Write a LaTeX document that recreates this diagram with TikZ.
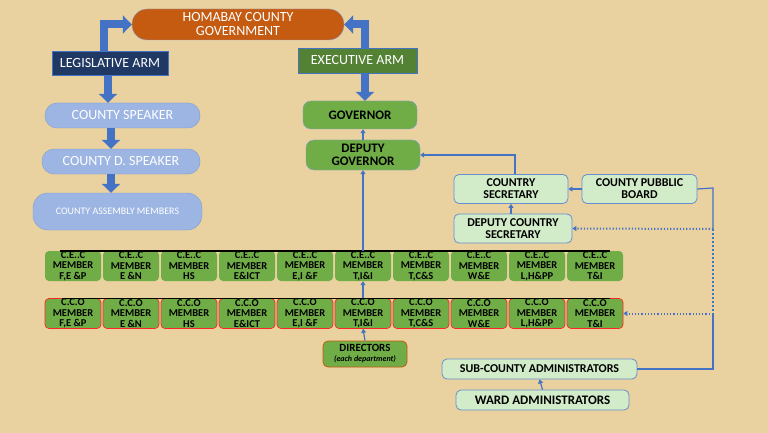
\documentclass[tikz,border=0pt]{standalone}
\usepackage{fontspec}
\setmainfont{Carlito}
\usetikzlibrary{arrows.meta}
\definecolor{bg}{HTML}{E9D29F}
\definecolor{org}{HTML}{C55A11}
\definecolor{navy}{HTML}{1F3864}
\definecolor{dgreen}{HTML}{548235}
\definecolor{mgreen}{HTML}{70AD47}
\definecolor{lblue}{HTML}{9DB5E3}
\definecolor{lgreen}{HTML}{D2EBC8}
\definecolor{arr}{HTML}{4472C4}
\newcommand\fs[1]{\fontsize{#1}{#1}\selectfont}
\tikzset{
 box/.style={rounded corners=5pt,minimum height=#1,inner sep=1pt,align=center},
 spk/.style={box=25pt,rounded corners=12pt,fill=lblue,draw=arr!70,text=white,font=\fs{14}},
 gov/.style={box=28pt,rounded corners=8pt,fill=mgreen,draw=arr!70,font=\fs{13}\bfseries},
 sec/.style={box=29pt,fill=lgreen,draw=arr!80,font=\fs{12}\bfseries,line width=0.8pt},
 mem/.style={rounded corners=4pt,fill=mgreen,minimum width=56pt,minimum height=30pt,inner sep=0pt,align=center,font=\fs{10.5}\bfseries},
 cco/.style={mem,draw=red!85,line width=0.7pt},
 thick arr/.style={line width=8pt,draw=arr,-{Triangle[length=9pt,width=18pt]}},
 thin arr/.style={line width=1.2pt,draw=arr,-{Triangle[length=4pt,width=5pt]}},
 dot arr/.style={thin arr,dotted,line width=2pt},
}
\begin{document}
\begin{tikzpicture}[x=1pt,y=-1pt]
\fill[bg] (0,0) rectangle (768,433);
\useasboundingbox (0,0) rectangle (768,433);
\node[rounded corners=15pt,fill=org,draw=arr!60,minimum width=212pt,minimum height=31pt,text=white,font=\fs{14},align=center,inner sep=1pt] (hc) at (238,24.5) {HOMABAY COUNTY\\GOVERNMENT};
\node[fill=navy,draw=arr,minimum width=116pt,minimum height=24pt,text=white,font=\fs{14}] (leg) at (110,63) {LEGISLATIVE ARM};
\node[fill=dgreen,draw=arr,minimum width=119pt,minimum height=25pt,text=white,font=\fs{14}] (exe) at (357.5,60.5) {EXECUTIVE ARM};
\node[spk,minimum width=155pt] (sp) at (122.5,115.5) {COUNTY SPEAKER};
\node[spk,minimum width=158pt] (dsp) at (121,161.5) {COUNTY D. SPEAKER};
\node[spk,minimum width=169pt,minimum height=37pt,rounded corners=15pt,font=\fs{10}] (cam) at (117.5,211.5) {COUNTY ASSEMBLY MEMBERS};
\node[gov,minimum width=114pt] (gv) at (360,115) {GOVERNOR};
\node[gov,minimum width=114pt,minimum height=30pt] (dg) at (363,155) {DEPUTY\\GOVERNOR};
\node[sec,minimum width=114pt] (cs) at (511,189) {COUNTRY\\SECRETARY};
\node[sec,minimum width=115pt] (pb) at (639.5,189) {COUNTY PUBBLIC\\BOARD};
\node[sec,minimum width=118pt] (ds) at (513,228.5) {DEPUTY COUNTRY\\SECRETARY};
\node[box=26pt,minimum width=84pt,fill=mgreen,draw=org,line width=0.8pt,font=\fs{11}\bfseries] (dir) at (365,354) {DIRECTORS\\[-1pt]{\fs{8}\itshape (each department)}};
\node[sec,minimum width=195pt,minimum height=20pt,font=\fs{12}\bfseries] (sca) at (539.5,369) {SUB-COUNTY ADMINISTRATORS};
\node[sec,minimum width=173pt,minimum height=20pt,font=\fs{13}\bfseries] (wa) at (542.5,400) {WARD ADMINISTRATORS};
\foreach \i/\d in {1/{F,E \&P},2/{E \&N},3/HS,4/E\&ICT,5/{E,I \&F},6/{T,I\&I},7/{T,C\&S},8/W\&E,9/{L,H\&PP},10/T\&I}{
 \node[mem] (cec\i) at ({15+58*\i},266) {C.E..C\\MEMBER\\\d};
 \node[cco] (cco\i) at ({15+58*\i},313.5) {C.C.O\\MEMBER\\\d};
}
\draw[line width=1.2pt] (60,251) -- (610,251);
\draw[line width=1.2pt] (62,298.5) -- (610,298.5);
% thick arrows
\draw[thick arr] (104,51) |- (hc.west);
\draw[thick arr] (365,48) |- (hc.east);
\draw[thick arr] (leg.south -| 108,0) -- (sp.north -| 108,0);
\draw[thick arr] (exe.south -| 365,0) -- (gv.north -| 365,0);
\draw[thick arr] (sp.south -| 111,0) -- (dsp.north -| 111,0);
\draw[thick arr] (dsp.south -| 111,0) -- (cam.north -| 111,0);
% thin arrows
\draw[thin arr] (dg.north -| 363,0) -- (gv.south -| 363,0);
\draw[thin arr] (cec6.north) -- (dg.south);
\draw[thin arr] (cco6.north) -- (cec6.south);
\draw[thin arr] (dir.north) -- (cco6.south);
\draw[thin arr] (cs.north -| 515,0) |- (dg.east);
\draw[thin arr] (pb.west) -- (cs.east);
\draw[thin arr] (ds.north -| 511,0) -- (cs.south);
\draw[thin arr] (wa.north) -- (sca.south);
\coordinate (r1) at (713,188);
\coordinate (r2) at (713,229);
\coordinate (r3) at (713,313.5);
\draw[line width=1.2pt,draw=arr] (pb.east) -- (r1) -- (r2);
\draw[line width=2pt,draw=arr,dotted] (r2) -- (r3);
\draw[line width=1.2pt,draw=arr] (r3) |- (sca.east);
\draw[dot arr] (r2) -- (ds.east);
\draw[dot arr] (r3) -- (cco10.east);
\end{tikzpicture}
\end{document}
